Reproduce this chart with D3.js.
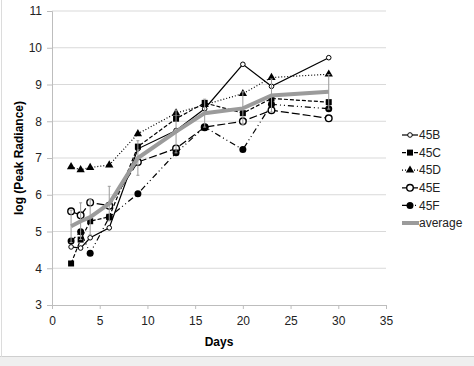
<!DOCTYPE html>
<html lang="en">
<head>
  <meta charset="UTF-8">
  <title>Peak Radiance</title>
  <script src="https://d3js.org/d3.v7.min.js"></script>
  <style>
    * { margin: 0; padding: 0; box-sizing: border-box; }
    body { width: 474px; height: 366px; background: #fff; font-family: "Liberation Sans", Arial, sans-serif; }
    svg { display: block; }
  </style>
</head>
<body>
  <div id="chart"></div>

  <script>
    // data
    const days = [2, 3, 4, 6, 9, 13, 16, 20, 23, 29];
    const s45B = [4.58, 4.55, 4.83, 5.10, 7.25, 7.75, 8.34, 9.55, 8.95, 9.73];
    const s45C = [4.13, 4.78, 5.28, 5.40, 7.31, 8.07, 8.50, 8.22, 8.62, 8.52];
    const s45D = [6.76, 6.68, 6.74, 6.81, 7.66, 8.22, 8.45, 8.75, 9.19, 9.28];
    const s45E = [5.55, 5.44, 5.79, 5.70, 6.89, 7.26, 7.84, 8.00, 8.30, 8.08];
    const s45F = [4.74, 4.99, 4.41, 5.39, 6.03, 7.14, 7.84, 7.23, 8.46, 8.34];
    const average = [5.14, 5.28, 5.39, 5.76, 7.00, 7.72, 8.22, 8.35, 8.70, 8.80];
    const avgErr = [0.44, 0.50, 0.48, 0.47, 0.47, 0.58, 0.38, 0.45, 0.45, 0.47];
    const xTicks = [0, 5, 10, 15, 20, 25, 30, 35];
    const yTicks = [3, 4, 5, 6, 7, 8, 9, 10, 11];

    const width = 474, height = 366;

    const series = [
      { name: '45B', values: s45B, dash: null, marker: 'smallOpen' },
      { name: '45C', values: s45C, dash: '4,2', marker: 'square' },
      { name: '45D', values: s45D, dash: '1,2', marker: 'triangle' },
      { name: '45E', values: s45E, dash: '8,3', marker: 'open' },
      { name: '45F', values: s45F, dash: '6,3,1,3,1,3', marker: 'filled' }
    ];

    const svg = d3.select('#chart').append('svg')
      .attr('width', width)
      .attr('height', height);

    // frame
    svg.append('rect').attr('x', 0).attr('y', 357).attr('width', width).attr('height', 9).attr('fill', '#efefef');
    svg.append('line').attr('x1', 0).attr('x2', width).attr('y1', 356.5).attr('y2', 356.5).attr('stroke', '#cfcfcf');
    svg.append('line').attr('x1', 1.5).attr('x2', 1.5).attr('y1', 0).attr('y2', 357).attr('stroke', '#dcdcdc');

    const x = d3.scaleLinear().domain([0, 35]).range([52, 386]);
    const y = d3.scaleLinear().domain([3, 11]).range([305, 11]);

    // gridlines
    svg.append('g').selectAll('line')
      .data(yTicks.filter(d => d > 3))
      .join('line')
      .attr('x1', x(0)).attr('x2', x(35))
      .attr('y1', d => y(d)).attr('y2', d => y(d))
      .attr('stroke', '#d9d9d9').attr('stroke-width', 1.2);

    // axes
    const yAxis = svg.append('g')
      .attr('transform', `translate(${x(0)},0)`)
      .call(d3.axisLeft(y).tickValues(yTicks).tickSize(5).tickPadding(5).tickFormat(d3.format('d')));
    const xAxis = svg.append('g')
      .attr('transform', `translate(0,${y(3)})`)
      .call(d3.axisBottom(x).tickValues(xTicks).tickSize(4).tickPadding(5).tickFormat(d3.format('d')));
    [yAxis, xAxis].forEach(a => {
      a.select('.domain').attr('stroke', '#bdbdbd');
      a.selectAll('.tick line').attr('stroke', '#bdbdbd');
      a.selectAll('.tick text').attr('fill', '#222').style('font-size', '12px')
        .style('font-family', '"Liberation Sans", Arial, sans-serif');
    });
    xAxis.selectAll('.tick text').attr('dy', '0.9em');

    // axis titles
    svg.append('text')
      .attr('x', (x(0) + x(35)) / 2).attr('y', 346)
      .attr('text-anchor', 'middle')
      .style('font-size', '12px').style('font-weight', 'bold')
      .text('Days');
    svg.append('text')
      .attr('transform', `translate(23,${(y(3) + y(11)) / 2}) rotate(-90)`)
      .attr('text-anchor', 'middle')
      .style('font-size', '12px').style('font-weight', 'bold')
      .text('log (Peak Radiance)');

    function drawMarker(g, type, cx, cy) {
      if (type === 'smallOpen') {
        g.append('circle').attr('cx', cx).attr('cy', cy).attr('r', 2.3)
          .attr('fill', '#fff').attr('stroke', '#000').attr('stroke-width', 1);
      } else if (type === 'open') {
        g.append('circle').attr('cx', cx).attr('cy', cy).attr('r', 3.3)
          .attr('fill', '#fff').attr('stroke', '#000').attr('stroke-width', 1.4);
      } else if (type === 'filled') {
        g.append('circle').attr('cx', cx).attr('cy', cy).attr('r', 3.5).attr('fill', '#000');
      } else if (type === 'square') {
        g.append('rect').attr('x', cx - 3).attr('y', cy - 3).attr('width', 6).attr('height', 6).attr('fill', '#000');
      } else if (type === 'triangle') {
        g.append('path').attr('d', d3.symbol(d3.symbolTriangle, 30)()).attr('transform', `translate(${cx},${cy})`).attr('fill', '#000');
      }
    }

    const line = d3.line().x(d => x(d[0])).y(d => y(d[1]));

    // series lines and markers
    series.forEach(s => {
      const pts = days.map((d, i) => [d, s.values[i]]);
      const g = svg.append('g');
      g.append('path').datum(pts)
        .attr('d', line)
        .attr('fill', 'none').attr('stroke', '#000').attr('stroke-width', 1.2)
        .attr('stroke-dasharray', s.dash);
      pts.forEach(p => drawMarker(g, s.marker, x(p[0]), y(p[1])));
    });

    // average with error bars
    const avgG = svg.append('g');
    avgG.selectAll('line.err')
      .data(days.map((d, i) => ({ d, v: average[i], e: avgErr[i] })))
      .join('line')
      .attr('class', 'err')
      .attr('x1', p => x(p.d)).attr('x2', p => x(p.d))
      .attr('y1', p => y(p.v - p.e)).attr('y2', p => y(p.v + p.e))
      .attr('stroke', '#9a9a9a').attr('stroke-width', 1);
    avgG.selectAll('line.cap')
      .data(days.flatMap((d, i) => [[d, average[i] - avgErr[i]], [d, average[i] + avgErr[i]]]))
      .join('line')
      .attr('class', 'cap')
      .attr('x1', p => x(p[0]) - 1.5).attr('x2', p => x(p[0]) + 1.5)
      .attr('y1', p => y(p[1])).attr('y2', p => y(p[1]))
      .attr('stroke', '#9a9a9a').attr('stroke-width', 1);
    avgG.append('path')
      .datum(days.map((d, i) => [d, average[i]]))
      .attr('d', line)
      .attr('fill', 'none').attr('stroke', '#9b9b9b').attr('stroke-width', 4);

    // legend
    const legend = svg.append('g').attr('transform', 'translate(402,135)');
    const legendItems = series.concat([{ name: 'average', avg: true }]);
    legendItems.forEach((s, i) => {
      const g = legend.append('g').attr('transform', `translate(0,${i * 17.6})`);
      if (s.avg) {
        g.append('line').attr('x1', 0).attr('x2', 17).attr('y1', 0).attr('y2', 0)
          .attr('stroke', '#9b9b9b').attr('stroke-width', 4);
      } else {
        g.append('line').attr('x1', 0).attr('x2', 16).attr('y1', 0).attr('y2', 0)
          .attr('stroke', '#000').attr('stroke-width', 1.2).attr('stroke-dasharray', s.dash);
        drawMarker(g, s.marker, 8, 0);
      }
      g.append('text').attr('x', 17).attr('y', 0).attr('dy', '0.35em')
        .style('font-size', '12px').attr('fill', '#222')
        .text(s.name);
    });
  </script>
</body>
</html>
